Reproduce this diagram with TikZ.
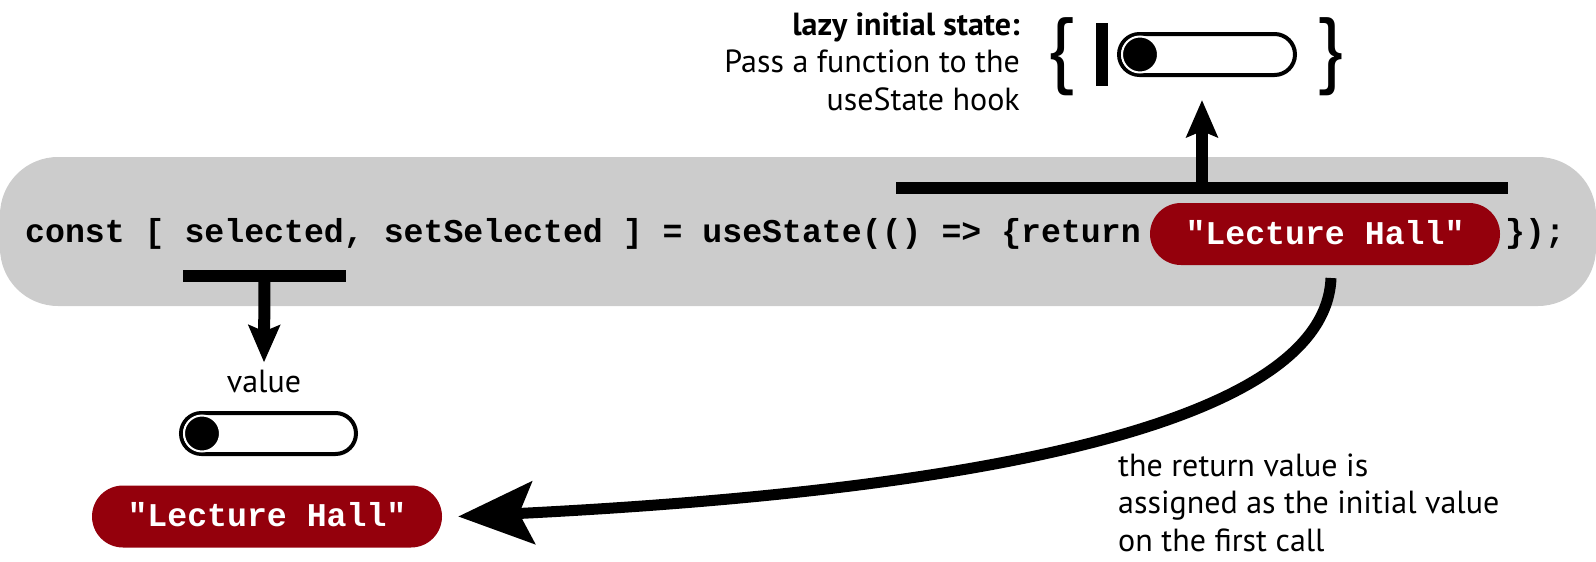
\documentclass[tikz,border=0pt]{standalone}
\usepackage{fontspec}
\setmainfont{PT Sans}
\newfontfamily\codefont{Liberation Mono}
\usetikzlibrary{arrows.meta,calc}
\definecolor{codegray}{RGB}{204,204,204}
\definecolor{pillred}{RGB}{148,0,12}
\tikzset{
  codetxt/.style={font=\codefont\bfseries\fontsize{33.2}{40}\selectfont, inner sep=0pt},
  pill/.style={fill=pillred, rounded corners=31pt, minimum width=350pt, minimum height=62pt, inner sep=0pt, text=white,
    font=\codefont\bfseries\fontsize{33.2}{40}\selectfont, text height=20pt, text depth=0pt},
  barnode/.style={fill=black, inner sep=0pt, minimum height=12pt},
  labeltxt/.style={font=\fontsize{32}{37.5}\selectfont, inner sep=0pt},
  thickarrow/.style={line width=12pt, -{Stealth[length=37pt,width=31pt,inset=6pt]}},
  toggleframe/.style={draw=black, line width=4pt, rounded corners=20.5pt, fill=white, inner sep=0pt, minimum width=176pt, minimum height=41pt},
  knob/.style={circle, fill=black, draw=white, line width=2pt, minimum size=36pt, inner sep=0pt},
  bracetxt/.style={font=\fontsize{84}{84}\selectfont, inner sep=0pt}
}
\begin{document}
\begin{tikzpicture}[x=1pt,y=-1pt]
\useasboundingbox (0,0) rectangle (1596,562);
\fill[codegray, rounded corners=58pt] (0,157) rectangle (1596,306);

% code line
\node[codetxt, anchor=base west] (code) at (25,242) {const [ selected, setSelected ] = useState(() => \{return};
\node[pill] (lh1) at (1325,234) {"Lecture Hall"};
\node[codetxt, anchor=base west] (codeend) at (1505,242) {\});};

% brackets under/over code
\node[barnode, minimum width=612pt] (topbar) at (1202,187.5) {};
\node[barnode, minimum width=163pt] (selbar) at (264.5,275.5) {};

% lazy initial state group
\node[labeltxt, align=right, anchor=base east] (lazytxt) at (1020,110) {\textbf{lazy initial state:}\\Pass a function to the\\useState hook};
\node[bracetxt] (lbrace) at (1061,57) {\{};
\node[bracetxt] (rbrace) at (1330,57) {\}};
\node[fill=black, minimum width=12pt, minimum height=63pt, inner sep=0pt] (lazybar) at (1102,54.5) {};
\node[toggleframe] (lazytoggle) at (1207,54.5) {};
\node[knob] (lazyknob) at (1140,54.5) {};

% value group
\node[labeltxt, anchor=base] (valuetxt) at (264,392) {value};
\node[toggleframe, minimum width=175pt] (valtoggle) at (268.5,433.5) {};
\node[knob] (valknob) at (202,433.5) {};
\node[pill] (lh2) at (267,516.5) {"Lecture Hall"};

% note
\node[labeltxt, align=left, anchor=base west] (notetxt) at (1118,551) {the return value is\\assigned as the initial value\\on the first call};

% connectors
\coordinate (uptip) at ($(lazytoggle.south -| topbar.center)+(0,23)$);
\draw[thickarrow] (topbar.center) -- (uptip);
\draw[thickarrow] (selbar.center) -- ([yshift=7pt]valuetxt.north);
\coordinate (cstart) at (1331,278);
\draw[line width=11pt, -{Stealth[length=75pt,width=62pt,inset=14pt]}] (cstart) .. controls (1325,430) and (950,492) .. ([xshift=16pt]lh2.east);
\end{tikzpicture}
\end{document}
